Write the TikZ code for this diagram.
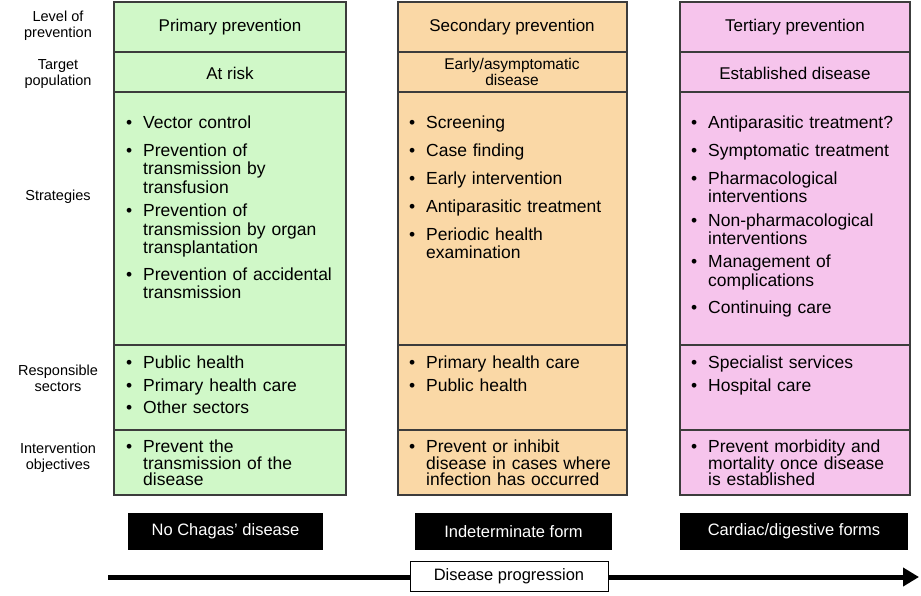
\documentclass[tikz,border=0pt]{standalone}
\usepackage{fontspec}
\setmainfont{Liberation Sans}
\usetikzlibrary{arrows.meta}
\definecolor{cg}{RGB}{208,248,200}
\definecolor{co}{RGB}{250,216,166}
\definecolor{cp}{RGB}{246,196,236}
\definecolor{bd}{RGB}{60,60,60}
\newcommand{\bitem}[1]{\par\noindent\makebox[17pt][l]{\textbullet}\parbox[t]{205pt}{\raggedright #1}}
\tikzset{
 cell/.style={draw=bd,line width=1.3pt},
 hd/.style={font=\fontsize{17}{19}\selectfont,anchor=center,align=center},
 lst/.style={anchor=north west,text width=225pt,inner sep=0pt,align=left},
 lab/.style={align=center,font=\fontsize{14.5}{16}\selectfont},
 blk/.style={fill=black,text=white,font=\fontsize{16.5}{18}\selectfont,inner sep=0pt}
}
\begin{document}
\begin{tikzpicture}[x=1pt,y=-1pt]
\useasboundingbox (0,0) rectangle (921,595);
% left labels
\node[lab] (l1) at (58,26) {Level of\\prevention};
\node[lab] (l2) at (58,74) {Target\\population};
\node[lab] (l3) at (58,197) {Strategies};
\node[lab] (l4) at (58,378) {Responsible\\sectors};
\node[lab] (l5) at (58,458) {Intervention\\objectives};
% columns
\foreach \c/\xa/\xb in {cg/114/346,co/398/627,cp/680/910}{
 \fill[\c] (\xa,2) rectangle (\xb,495);
 \draw[cell] (\xa,2) rectangle (\xb,495);
 \foreach \yy in {52,92,345,430} \draw[cell] (\xa,\yy) -- (\xb,\yy);
}
\node[hd] (h1) at (230,27) {Primary prevention};
\node[hd] (h2) at (512,27) {Secondary prevention};
\node[hd] (h3) at (795,27) {Tertiary prevention};
\node[hd] (t1) at (230,73) {At risk};
\node[hd,font=\fontsize{15.5}{13}\selectfont] (t2) at (512,72) {Early/asymptomatic\\disease};
\node[hd] (t3) at (795,73) {Established disease};
\begin{scope}[every node/.append style={font=\fontsize{17.5}{18.5}\selectfont}]
\node[lst] (s1) at (126,100) {\setlength{\parskip}{9.5pt}\bitem{Vector control}\bitem{Prevention of\\transmission by\\transfusion}\bitem{Prevention of\\transmission by organ\\transplantation}\bitem{Prevention of accidental\\transmission}};
\node[lst] (s2) at (409,100) {\setlength{\parskip}{9.5pt}\bitem{Screening}\bitem{Case finding}\bitem{Early intervention}\bitem{Antiparasitic treatment}\bitem{Periodic health\\examination}};
\node[lst] (s3) at (691,100) {\setlength{\parskip}{9.5pt}\bitem{Antiparasitic treatment?}\bitem{Symptomatic treatment}\bitem{Pharmacological\\interventions}\bitem{Non-pharmacological\\interventions}\bitem{Management of\\complications}\bitem{Continuing care}};
\end{scope}
\begin{scope}[every node/.append style={font=\fontsize{17.5}{22.5}\selectfont}]
\node[lst] (r1) at (126,346) {\bitem{Public health}\bitem{Primary health care}\bitem{Other sectors}};
\node[lst] (r2) at (409,346) {\bitem{Primary health care}\bitem{Public health}};
\node[lst] (r3) at (691,346) {\bitem{Specialist services}\bitem{Hospital care}};
\end{scope}
\begin{scope}[every node/.append style={font=\fontsize{17.5}{16.5}\selectfont}]
\node[lst] (o1) at (126,436) {\bitem{Prevent the\\transmission of the\\disease}};
\node[lst] (o2) at (409,436) {\bitem{Prevent or inhibit\\disease in cases where\\infection has occurred}};
\node[lst] (o3) at (691,436) {\bitem{Prevent morbidity and\\mortality once disease\\is established}};
\end{scope}
% black boxes
\node[blk,minimum width=195pt,minimum height=37pt] (b1) at (225.5,531.5) {No Chagas' disease};
\node[blk,minimum width=197pt,minimum height=37pt] (b2) at (513.5,531.5) {Indeterminate form};
\node[blk,minimum width=228pt,minimum height=37pt] (b3) at (794,531.5) {Cardiac/digestive forms};
% arrow
\coordinate (a0) at (108,577);
\coordinate (a1) at (919,577);
\draw[line width=5pt,-{Triangle[length=16pt,width=18pt]}] (a0) -- (a1);
\node[draw=black,fill=white,line width=1pt,minimum width=198pt,minimum height=30pt,inner sep=0pt,font=\fontsize{16.5}{18}\selectfont] (dp) at (509,576) {Disease progression};
\end{tikzpicture}
\end{document}
